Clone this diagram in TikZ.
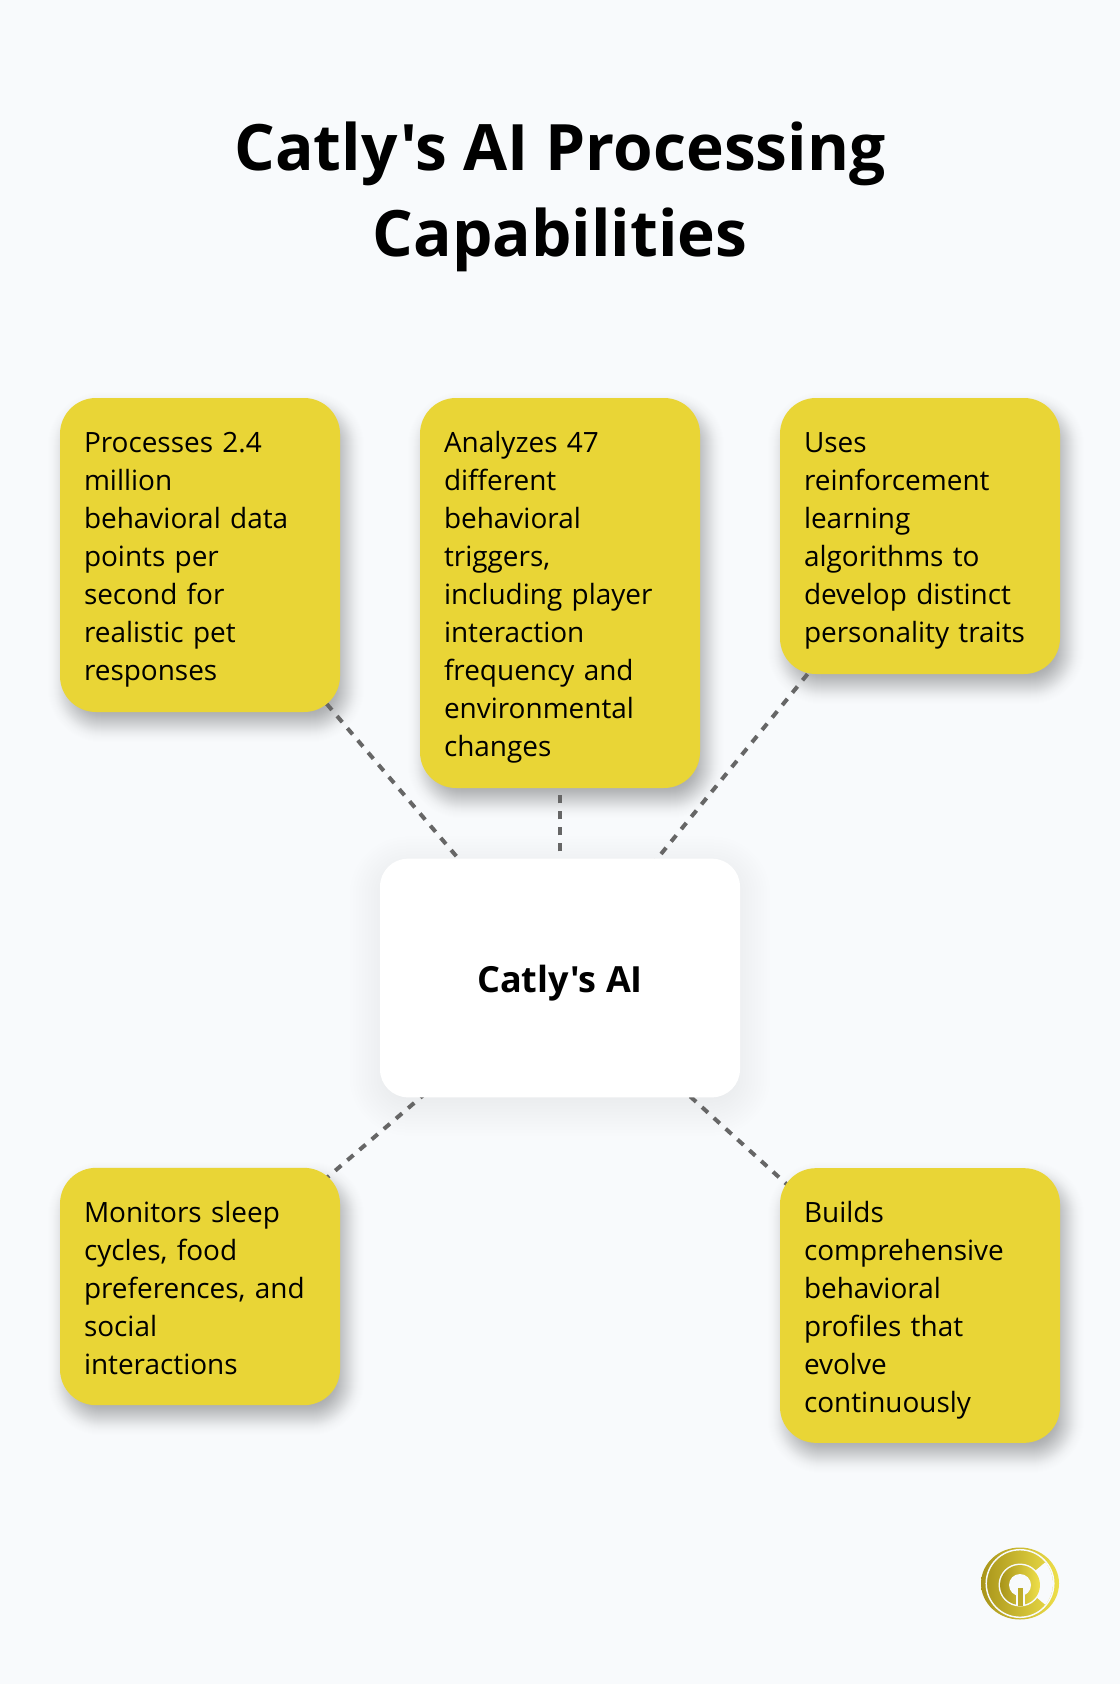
\documentclass[tikz,border=0pt]{standalone}
\usepackage{fontspec}
\setmainfont[Ligatures=TeXOff]{Open Sans}
\usetikzlibrary{calc}
\definecolor{pagebg}{HTML}{F8FAFC}
\definecolor{boxyellow}{HTML}{E9D536}
\definecolor{linkgray}{HTML}{666666}
\definecolor{golddark}{HTML}{A8941A}
\definecolor{goldlight}{HTML}{EFE04A}
\pgfdeclarelayer{shadowlayer}
\pgfdeclarelayer{linklayer}
\pgfsetlayers{shadowlayer,linklayer,main}
\tikzset{
  yellowbox/.style={fill=boxyellow,rounded corners=27pt,minimum width=210pt,text width=174pt,
    align=left,inner sep=0pt,font=\fontsize{20.95pt}{28.5pt}\selectfont,
    execute at begin node=\rule{0pt}{26pt},execute at end node=\strut},
  hubbox/.style={fill=white,rounded corners=21pt,minimum width=270pt,minimum height=179pt,
    align=center,inner sep=0pt,font=\fontsize{27pt}{30pt}\selectfont\bfseries,
    execute at begin node=\rule{0pt}{28.2pt}},
  linkline/.style={draw=linkgray,line width=3pt,dash pattern=on 6pt off 6pt},
  titletext/.style={align=center,inner sep=0pt,font=\fontsize{48pt}{64.5pt}\selectfont\bfseries},
}
\begin{document}
\begin{tikzpicture}[x=0.75pt,y=0.75pt]
\useasboundingbox (0,0) rectangle (1120,-1684);
\begin{pgfonlayer}{shadowlayer}
\fill [pagebg] (0,0) rectangle (1120,-1684);
\end{pgfonlayer}

\node [titletext] (title) at (560,-197) {Catly's AI Processing\\Capabilities};

\node [hubbox] (hub) at (560,-978) {Catly's AI};

\node [yellowbox,minimum height=235.5pt] (pointsbox) at (200,-555) {Processes 2.4\\million\\behavioral data\\points per\\second for\\realistic pet\\responses};
\node [yellowbox,minimum height=292.5pt] (triggersbox) at (560,-593) {Analyzes 47\\different\\behavioral\\triggers,\\including player\\interaction\\frequency and\\environmental\\changes};
\node [yellowbox,minimum height=207pt] (learningbox) at (920,-536) {Uses\\reinforcement\\learning\\algorithms to\\develop distinct\\personality traits};
\node [yellowbox,minimum height=178pt] (sleepbox) at (200,-1286.5) {Monitors sleep\\cycles, food\\preferences, and\\social\\interactions};
\node [yellowbox,minimum height=206pt] (profilesbox) at (920,-1305.5) {Builds\\comprehensive\\behavioral\\profiles that\\evolve\\continuously};

\begin{pgfonlayer}{shadowlayer}
% soft drop shadows
\foreach \n in {pointsbox,triggersbox,learningbox,sleepbox,profilesbox} {
  \foreach \i [evaluate=\i as \r using 27+0.75*(24-\i), evaluate=\i as \o using 0.0135*sin(3.75*\i)*sin(3.75*\i)] in {0,...,47} {
    \coordinate (shadowa) at ($(\n.south west)+(6-24+\i,-12-24+\i)$);
    \coordinate (shadowb) at ($(\n.north east)+(6+24-\i,-12+24-\i)$);
    \fill [black,opacity=\o,rounded corners=\r pt] (shadowa) rectangle (shadowb);
  }
}
\foreach \i [evaluate=\i as \r using 21+0.75*(30-3*\i)] in {0,...,19} {
  \coordinate (shadowa) at ($(hub.south west)+(-30+3*\i,-38+3*\i)$);
  \coordinate (shadowb) at ($(hub.north east)+(30-3*\i,22-3*\i)$);
  \fill [black,opacity=0.0055,rounded corners=\r pt] (shadowa) rectangle (shadowb);
}
\end{pgfonlayer}

\begin{pgfonlayer}{linklayer}
\draw [linkline] (hub.center) -- (pointsbox.center);
\draw [linkline,dash phase=1.1pt] (hub.center) -- (triggersbox.center);
\draw [linkline] (hub.center) -- (learningbox.center);
\draw [linkline] (hub.center) -- (sleepbox.center);
\draw [linkline] (hub.center) -- (profilesbox.center);
\end{pgfonlayer}

% logo
\shade [left color=golddark,right color=goldlight] (1020,-1583.5) ellipse (39*0.75pt and 36*0.75pt);
\draw [pagebg,line width=1.1pt] (1020,-1583.5) circle (33.8*0.75pt);
\fill [pagebg] (1020,-1583.5) -- ++(40:33*0.75pt) arc (40:-40:33*0.75pt) -- cycle;
\fill [pagebg] (1020,-1585) circle (21.5*0.75pt);
\shade [left color=golddark,right color=goldlight] (1020,-1585) circle (20*0.75pt);
\fill [pagebg] (1020,-1585) circle (11*0.75pt);
\fill [pagebg] (1015.5,-1590) rectangle (1024.5,-1606);
\fill [golddark!70!goldlight] (1018,-1588) rectangle (1022.5,-1606);
\end{tikzpicture}
\end{document}
